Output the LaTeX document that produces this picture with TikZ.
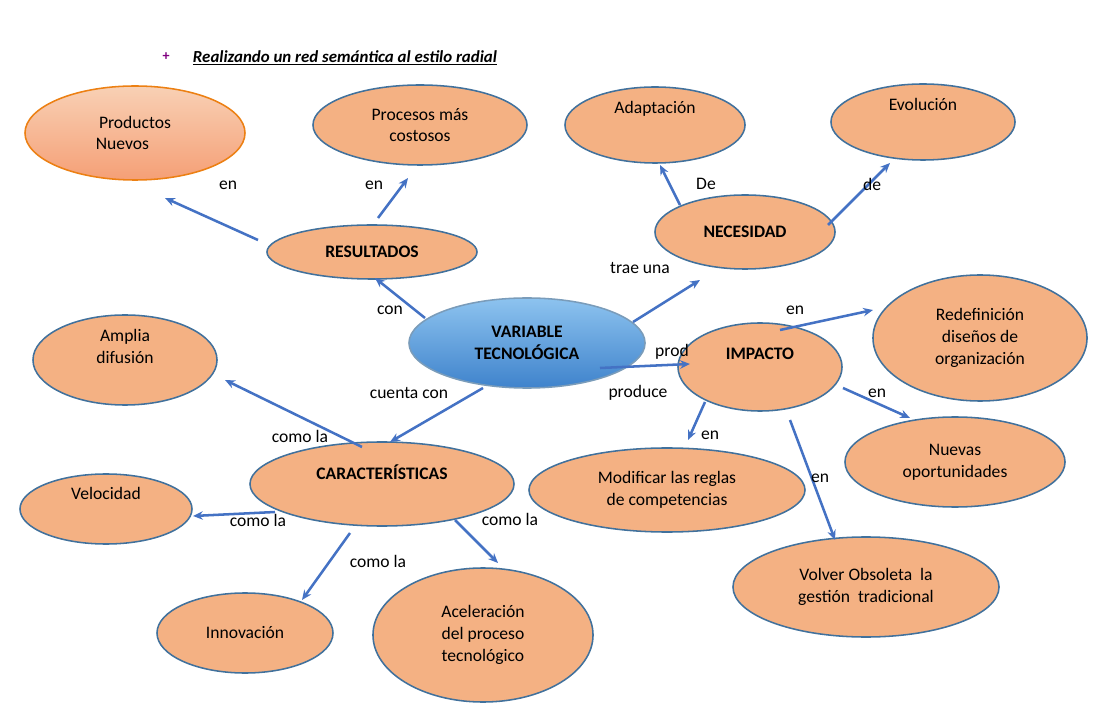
\documentclass[tikz,border=0pt]{standalone}
\usepackage{fontspec}
\setmainfont{Carlito}
\usetikzlibrary{shapes.geometric,arrows.meta}
\definecolor{sal}{HTML}{F4B183}
\definecolor{edge}{HTML}{41719C}
\definecolor{arr}{HTML}{4472C4}
\definecolor{bt}{HTML}{8DC3EF}
\definecolor{bb}{HTML}{3F83CC}
\begin{document}
\begin{tikzpicture}[x=0.025cm,y=-0.025cm,
  sz/.style 2 args={minimum width=#1*0.7113pt,minimum height=#2*0.7113pt},
  el/.style={ellipse,draw=edge,line width=1.1pt,fill=sal,inner sep=0pt,align=center,font=\fontsize{12.5}{15.5}\selectfont},
  ar/.style={-{Stealth[length=7pt,width=6pt]},draw=arr,line width=1.8pt},
  lb/.style={font=\fontsize{12.5}{14}\selectfont,inner sep=1pt}]
\useasboundingbox (0,0) rectangle (1097,720);
\node[font=\fontsize{12}{13}\selectfont\bfseries\itshape,anchor=west] (title) at (188,58) {\underline{Realizando un red semántica al estilo radial}};
\node[text=violet,font=\bfseries] (ic) at (166,57) {+};
% nodes
\node[el,sz={220}{94},top color=sal!60,bottom color=sal!90!red,draw=orange!70!brown] (pn) at (135,133) {Productos\\Nuevos\phantom{abc}};
\node[el,sz={214}{80}] (pmc) at (420,125) {Procesos más\\costosos};
\node[el,sz={180}{76}] (ada) at (655,125) {Adaptación\\[10pt]};
\node[el,sz={184}{76}] (evo) at (923,122) {Evolución\\[10pt]};
\node[el,sz={210}{54},font=\fontsize{12.5}{15}\selectfont\bfseries] (res) at (372,252) {RESULTADOS};
\node[el,sz={180}{74},font=\fontsize{12.5}{15}\selectfont\bfseries] (nec) at (745,232) {NECESIDAD};
\node[el,sz={236}{90},draw=edge!70,top color=bt,bottom color=bb,font=\fontsize{12.5}{15.5}\selectfont\bfseries] (vt) at (527,343) {VARIABLE\\TECNOLÓGICA};
\node[el,sz={184}{90}] (amp) at (125,360) {Amplia\\difusión\\[4pt]};
\node[el,sz={214}{126}] (red) at (980,338) {Redefinición\\diseños de\\organización};
\node[el,sz={164}{88},font=\fontsize{12.5}{15}\selectfont\bfseries] (imp) at (760,367) {IMPACTO\\[4pt]};
\node[el,sz={264}{84},font=\fontsize{12.5}{15}\selectfont\bfseries] (car) at (382,484) {CARACTERÍSTICAS\\[2pt]};
\node[el,sz={172}{70}] (vel) at (106,509) {Velocidad\\[6pt]};
\node[el,sz={220}{90}] (nue) at (955,462) {Nuevas\\oportunidades};
\node[el,sz={276}{84}] (mod) at (667,490) {Modificar las reglas\\de competencias};
\node[el,sz={266}{100}] (vol) at (866,587) {Volver Obsoleta\ \ la\\gestión\ \ tradicional};
\node[el,sz={176}{80}] (inn) at (245,633) {Innovación};
\node[el,sz={220}{134}] (ace) at (483,635) {Aceleración\\del proceso\\tecnológico};
% coordinates
\coordinate (a1) at (258,240); \coordinate (b1) at (165,198);
\coordinate (a2) at (378,218); \coordinate (b2) at (408,178);
\coordinate (a3) at (425,318); \coordinate (b3) at (375,278);
\coordinate (a4) at (633,322); \coordinate (b4) at (700,280);
\coordinate (a5) at (680,205); \coordinate (b5) at (660,165);
\coordinate (a6) at (828,225); \coordinate (b6) at (890,163);
\coordinate (a7) at (600,368); \coordinate (b7) at (690,364);
\coordinate (a8) at (780,330); \coordinate (b8) at (873,310);
\coordinate (a9) at (843,388); \coordinate (b9) at (910,418);
\coordinate (a10) at (705,402); \coordinate (b10) at (688,440);
\coordinate (a11) at (790,420); \coordinate (b11) at (835,540);
\coordinate (a12) at (483,388); \coordinate (b12) at (390,442);
\coordinate (a13) at (362,447); \coordinate (b13) at (225,380);
\coordinate (a14) at (275,512); \coordinate (b14) at (193,516);
\coordinate (a15) at (350,533); \coordinate (b15) at (302,600);
\coordinate (a16) at (455,520); \coordinate (b16) at (498,563);
\foreach \i in {1,...,16} \draw[ar] (a\i) -- (b\i);
% labels
\node[lb] (l1) at (228,185) {en};
\node[lb] (l2) at (374,185) {en};
\node[lb] (l3) at (390,310) {con};
\node[lb] (l4) at (640,268) {trae una};
\node[lb] (l5) at (706,184) {De};
\node[lb] (l6) at (872,184) {de};
\node[lb] (l7) at (672,352) {prod};
\node[lb] (l7b) at (638,393) {produce};
\node[lb] (l8) at (795,310) {en};
\node[lb] (l9) at (877,393) {en};
\node[lb] (l10) at (710,435) {en};
\node[lb] (l11) at (820,478) {en};
\node[lb] (l12) at (409,393) {cuenta con};
\node[lb] (l13) at (300,436) {como la};
\node[lb] (l14) at (258,520) {como la};
\node[lb] (l15) at (378,561) {como la};
\node[lb] (l16) at (510,519) {como la};
\end{tikzpicture}
\end{document}
